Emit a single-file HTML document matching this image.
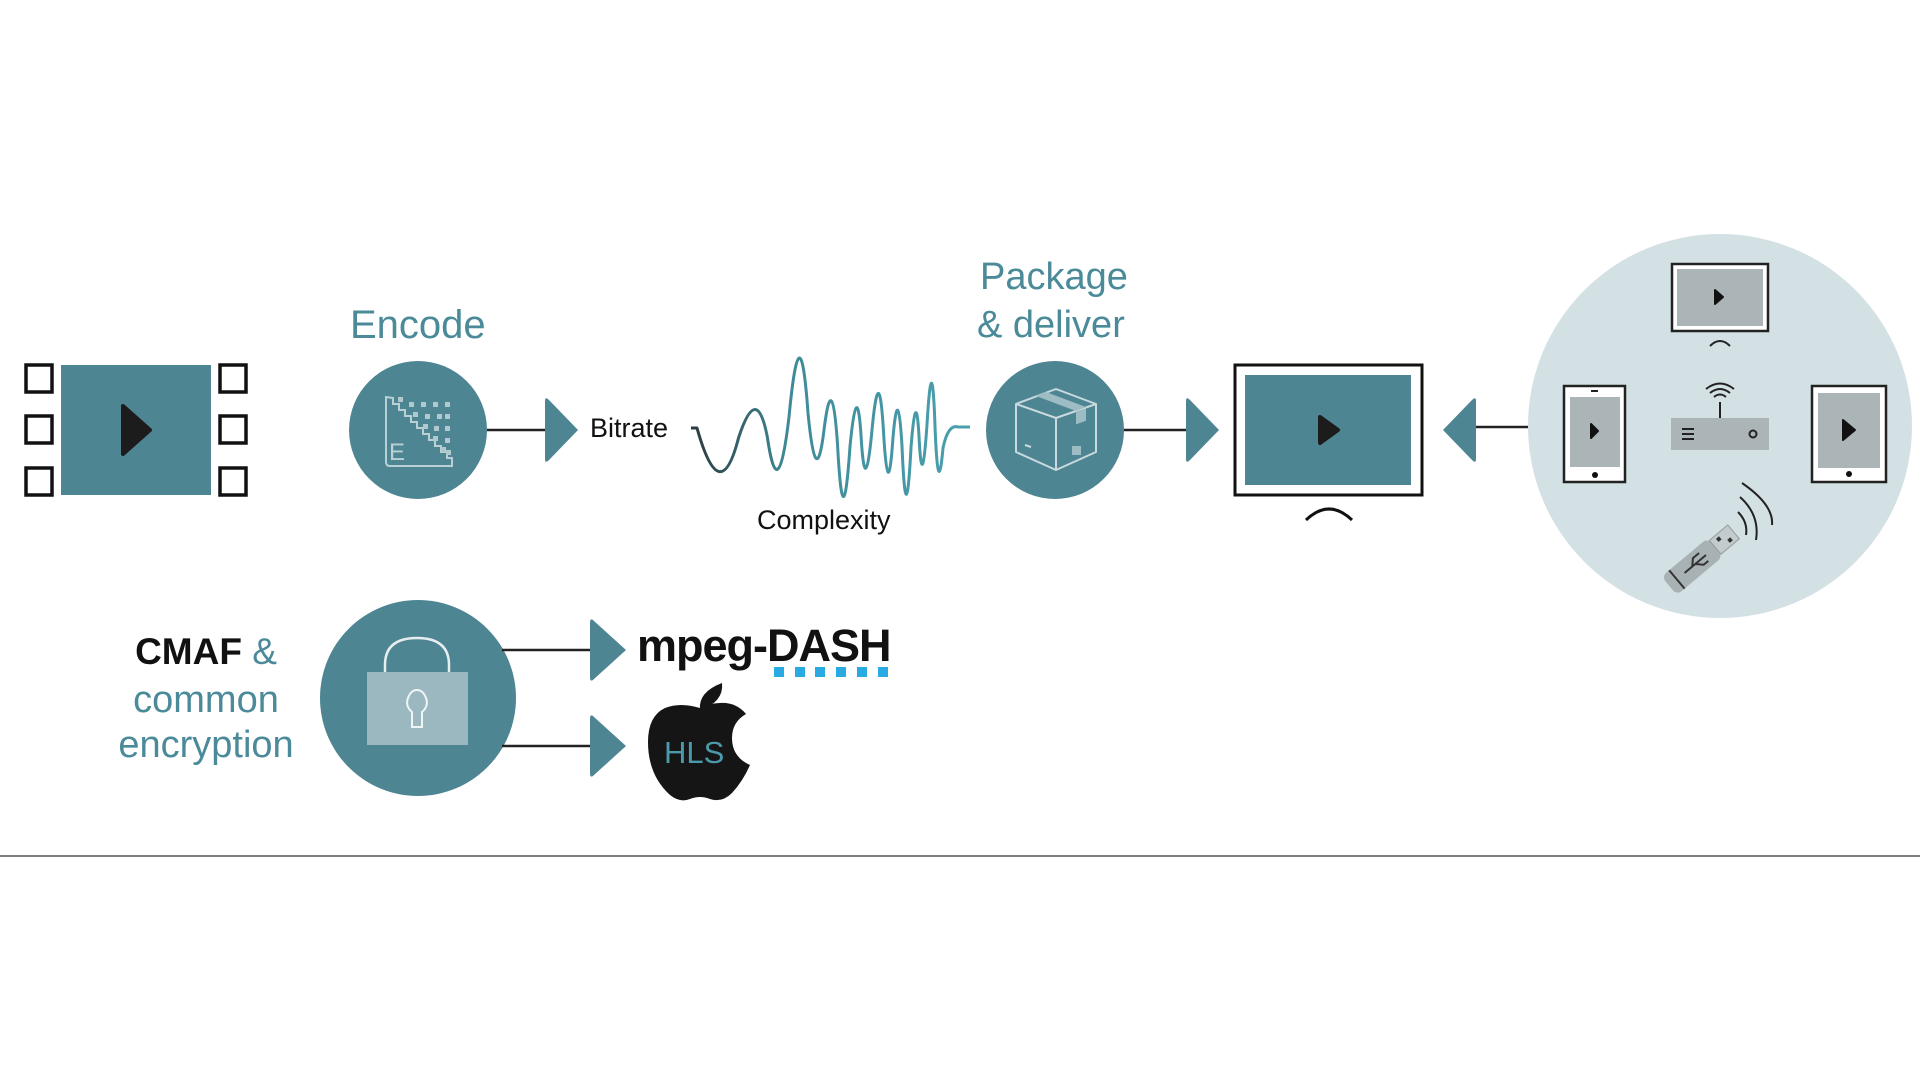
<!DOCTYPE html>
<html><head><meta charset="utf-8"><style>
html,body{margin:0;padding:0;background:#fff;width:1920px;height:1080px;overflow:hidden}
svg{display:block}
text{font-family:"Liberation Sans",sans-serif}
</style></head><body>
<svg width="1920" height="1080" viewBox="0 0 1920 1080" xmlns="http://www.w3.org/2000/svg">
<defs>
<linearGradient id="wg" x1="0" x2="1" y1="0" y2="0">
<stop offset="0" stop-color="#2b3b40"/><stop offset="0.35" stop-color="#3f8a98"/><stop offset="1" stop-color="#4aa0ae"/>
</linearGradient>
</defs>
<rect width="1920" height="1080" fill="#fff"/>

<!-- Film -->
<rect x="61" y="365" width="150" height="130" fill="#4e8593"/>
<g fill="none" stroke="#111" stroke-width="3.5">
<rect x="26" y="365" width="26" height="27"/><rect x="26" y="416" width="26" height="27"/><rect x="26" y="468" width="26" height="27"/>
<rect x="220" y="365" width="26" height="27"/><rect x="220" y="416" width="26" height="27"/><rect x="220" y="468" width="26" height="27"/>
</g>
<path d="M123 406 L150 430 L123 454 Z" fill="#1c1c1c" stroke="#1c1c1c" stroke-width="4" stroke-linejoin="round"/>

<!-- Encode -->
<text x="350" y="338" font-size="40" fill="#4a8a99">Encode</text>
<circle cx="418" cy="430" r="69" fill="#4e8593"/>
<g stroke="#b9d0d5" fill="none" stroke-width="2">
<path d="M386 397 L386 462 Q386 466 390 466 L452 466 L452 458 L447 458 L447 452 L441 452 L441 446 L435 446 L435 440 L429 440 L429 434 L423 434 L423 428 L417 428 L417 422 L411 422 L411 416 L405 416 L405 410 L399 410 L399 404 L393 404 L393 398 Z"/>
</g>
<text x="389" y="460" font-size="24" fill="#b9d0d5">E</text>
<g fill="#b0c9ce">
<rect x="398" y="397" width="5" height="5"/><rect x="409" y="402" width="5" height="5"/><rect x="421" y="402" width="5" height="5"/><rect x="433" y="402" width="5" height="5"/><rect x="445" y="402" width="5" height="5"/>
<rect x="413" y="412" width="5" height="5"/><rect x="425" y="414" width="5" height="5"/><rect x="437" y="414" width="5" height="5"/><rect x="445" y="414" width="5" height="5"/>
<rect x="423" y="424" width="5" height="5"/><rect x="434" y="426" width="5" height="5"/><rect x="445" y="426" width="5" height="5"/>
<rect x="433" y="436" width="5" height="5"/><rect x="445" y="438" width="5" height="5"/>
<rect x="441" y="447" width="5" height="5"/><rect x="446" y="450" width="5" height="5"/>
</g>
<line x1="487" y1="430" x2="545" y2="430" stroke="#222" stroke-width="2.5"/>
<path d="M545 401 Q545 396 549 400 L578 430 L549 460 Q545 464 545 459 Z" fill="#4e8593"/>
<text x="590" y="437" font-size="27" fill="#111">Bitrate</text>

<!-- Wave -->
<path fill="none" stroke="url(#wg)" stroke-width="3" stroke-linejoin="round" d="M691,428 L697,428 Q720,510 738.5,438 Q757,381 767.5,438 Q778,510 789,417 Q800,301 808,413 Q816,495 824,430 Q832,365 837.5,444 Q843,548 850,446.5 Q857,375 861,435 Q865,504 872,430 Q879,356 883.5,431.5 Q888,510 893,437.5 Q898,379 902,446 Q906,542 911,447.5 Q916,384 919,436 Q922,498 927,424.5 Q932,341 935,426 Q938,504 943,448 Q948,424 958,427 L970,427"/>
<text x="757" y="529" font-size="27" fill="#111">Complexity</text>

<!-- Package -->
<text x="980" y="289" font-size="38" fill="#4a8a99">Package</text>
<text x="977" y="337" font-size="38" fill="#4a8a99">&amp; deliver</text>
<circle cx="1055" cy="430" r="69" fill="#4e8593"/>
<g fill="none" stroke="#c8dade" stroke-width="2" stroke-linejoin="round">
<path d="M1016 404 L1056 389 L1096 404 L1096 452 L1056 470 L1016 452 Z"/>
<path d="M1016 404 L1056 418 L1096 404 M1056 418 L1056 470"/>
</g>
<path d="M1036 396 L1076 411 L1086 407 L1046 392 Z" fill="#9dbcc3"/>
<rect x="1076" y="409" width="10" height="12" fill="#9dbcc3" transform="skewY(-20) translate(0 395)"/>
<rect x="1072" y="446" width="9" height="9" fill="#9dbcc3"/>
<line x1="1025" y1="445" x2="1031" y2="447" stroke="#c8dade" stroke-width="2"/>
<line x1="1124" y1="430" x2="1186" y2="430" stroke="#222" stroke-width="2.5"/>
<path d="M1186 401 Q1186 396 1190 400 L1219 430 L1190 460 Q1186 464 1186 459 Z" fill="#4e8593"/>

<!-- Monitor -->
<rect x="1235" y="365" width="187" height="130" fill="#fff" stroke="#111" stroke-width="3"/>
<rect x="1245" y="375" width="166" height="110" fill="#4e8593"/>
<path d="M1320 417 L1338 430 L1320 443 Z" fill="#1c1c1c" stroke="#1c1c1c" stroke-width="4" stroke-linejoin="round"/>
<path d="M1306 520 Q1329 498 1352 520" fill="none" stroke="#111" stroke-width="3"/>

<!-- left arrow -->
<path d="M1476 401 Q1476 396 1472 400 L1443 430 L1472 460 Q1476 464 1476 459 Z" fill="#4e8593"/>
<line x1="1476" y1="427" x2="1530" y2="427" stroke="#222" stroke-width="2.5"/>

<!-- Devices circle -->
<circle cx="1720" cy="426" r="192" fill="#d3e1e5"/>
<rect x="1672" y="264" width="96" height="67" fill="#fff" stroke="#222" stroke-width="2.5"/>
<rect x="1677" y="269" width="86" height="57" fill="#abb5b8"/>
<path d="M1715 290 L1723 297 L1715 304 Z" fill="#111" stroke="#111" stroke-width="2" stroke-linejoin="round"/>
<path d="M1710 346 Q1720 336 1730 346" fill="none" stroke="#222" stroke-width="2"/>

<rect x="1564" y="386" width="61" height="96" fill="#fff" stroke="#222" stroke-width="2.5"/>
<rect x="1570" y="397" width="50" height="70" fill="#abb5b8"/>
<line x1="1591" y1="391" x2="1598" y2="391" stroke="#222" stroke-width="2"/>
<circle cx="1595" cy="475" r="3" fill="#111"/>
<path d="M1591 424 L1598 431 L1591 438 Z" fill="#111" stroke="#111" stroke-width="2" stroke-linejoin="round"/>

<rect x="1812" y="386" width="74" height="96" fill="#fff" stroke="#222" stroke-width="2.5"/>
<rect x="1818" y="393" width="62" height="75" fill="#abb5b8"/>
<circle cx="1849" cy="474" r="3" fill="#111"/>
<path d="M1843 420 L1855 430 L1843 440 Z" fill="#111" stroke="#111" stroke-width="2" stroke-linejoin="round"/>

<rect x="1671" y="418" width="98" height="32" fill="#abb5b8"/>
<line x1="1720" y1="402" x2="1720" y2="418" stroke="#222" stroke-width="2"/>
<g fill="none" stroke="#222" stroke-width="2">
<path d="M1714 397 Q1720 392 1726 397"/><path d="M1710 393 Q1720 385 1730 393"/><path d="M1706 389 Q1720 378 1734 389"/>
<line x1="1682" y1="429" x2="1694" y2="429"/><line x1="1682" y1="434" x2="1694" y2="434"/><line x1="1682" y1="439" x2="1694" y2="439"/>
<circle cx="1753" cy="434" r="3.5"/>
</g>
<g transform="translate(1706 555) rotate(-40)">
<rect x="-48" y="-12" width="60" height="24" rx="6" fill="#a8b2b5"/>
<rect x="12" y="-9" width="24" height="18" fill="#c2cbce" stroke="#999" stroke-width="1"/>
<line x1="-38" y1="-12" x2="-38" y2="12" stroke="#333" stroke-width="2"/>
<path d="M-28 0 L0 0 M-18 0 L-12 -6 L-4 -6 M-14 0 L-8 6 L-2 6" stroke="#333" stroke-width="2" fill="none"/>
<rect x="18" y="-6" width="4" height="4" fill="#333"/><rect x="26" y="2" width="4" height="4" fill="#333"/>
</g>
<g fill="none" stroke="#222" stroke-width="2">
<path d="M1738 512 Q1748 522 1746 535"/><path d="M1740 497 Q1760 515 1756 540"/><path d="M1742 483 Q1774 505 1772 525"/>
</g>

<!-- Bottom: CMAF -->
<text x="206" y="664" font-size="37" text-anchor="middle" fill="#111"><tspan font-weight="bold">CMAF</tspan> <tspan fill="#4a8a99">&amp;</tspan></text>
<text x="206" y="712" font-size="38" text-anchor="middle" fill="#4a8a99">common</text>
<text x="206" y="757" font-size="38" text-anchor="middle" fill="#4a8a99">encryption</text>
<circle cx="418" cy="698" r="98" fill="#4e8593"/>
<path d="M385 672 L385 665 Q385 638 417 638 Q449 638 449 665 L449 672" fill="none" stroke="#e8eef0" stroke-width="2.5"/>
<rect x="367" y="672" width="101" height="73" fill="#9bb8c0"/>
<path d="M412 727 L412 712 Q405 706 408 698 Q411 690 417 690 Q423 690 426 698 Q429 706 422 712 L422 727 Z" fill="none" stroke="#f0f4f5" stroke-width="2"/>
<line x1="502" y1="650" x2="591" y2="650" stroke="#222" stroke-width="2.5"/>
<line x1="502" y1="746" x2="591" y2="746" stroke="#222" stroke-width="2.5"/>
<path d="M590 623 Q590 617 594 621 L626 650 L594 679 Q590 683 590 677 Z" fill="#4e8593"/>
<path d="M590 719 Q590 713 594 717 L626 746 L594 775 Q590 779 590 773 Z" fill="#4e8593"/>
<text x="637" y="661" font-size="45" font-weight="bold" fill="#111" letter-spacing="-1">mpeg-DASH</text>
<g fill="#29aae2">
<rect x="774" y="667" width="10" height="10"/><rect x="795" y="667" width="10" height="10"/><rect x="815" y="667" width="10" height="10"/><rect x="836" y="667" width="10" height="10"/><rect x="857" y="667" width="10" height="10"/><rect x="878" y="667" width="10" height="10"/>
</g>
<!-- Apple -->
<path d="M700 708 Q680 702 665 708 Q648 716 648 742 Q648 775 670 795 Q680 803 690 799 Q700 795 710 799 Q722 803 732 793 Q743 781 750 765 Q732 757 732 738 Q732 722 746 714 Q736 702 720 703 Q710 703 700 708 Z" fill="#151515"/>
<path d="M700 710 Q698 692 722 683 Q724 702 700 710 Z" fill="#151515"/>
<text x="664" y="763" font-size="31" fill="#4a9aab">HLS</text>

<line x1="0" y1="856" x2="1920" y2="856" stroke="#555" stroke-width="1.5"/>
</svg>
</body></html>
